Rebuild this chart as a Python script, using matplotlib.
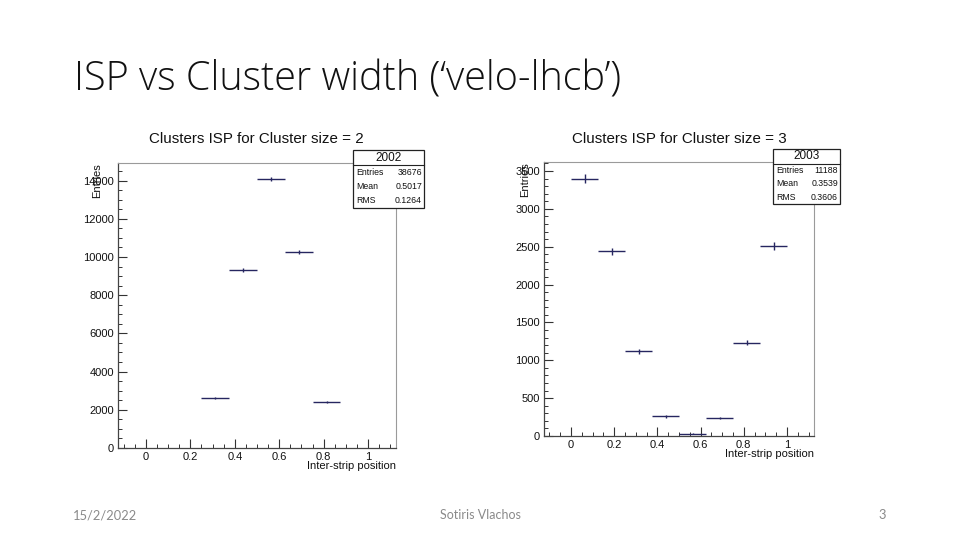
import matplotlib
matplotlib.use("Agg")
import matplotlib.pyplot as plt
from matplotlib.patches import Rectangle
from matplotlib.ticker import MultipleLocator
import numpy as np

W, H = 960, 540

# ---------------- data ----------------
left_centers = [0.3125, 0.4375, 0.5625, 0.6875, 0.8125]
left_values = [2620, 9320, 14080, 10250, 2406]

right_centers = [0.0625, 0.1875, 0.3125, 0.4375, 0.5625, 0.6875, 0.8125, 0.9375]
right_values = [3398, 2438, 1122, 260, 30, 242, 1232, 2509]

left_stats = ["2002", "38676", "0.5017", "0.1264"]
right_stats = ["2003", "11188", "0.3539", "0.3606"]
stat_names = ["Entries", "Mean", "RMS"]

left_title = "Clusters ISP for Cluster size = 2"
right_title = "Clusters ISP for Cluster size = 3"
page_title = "ISP vs Cluster width (\u2018velo-lhcb\u2019)"
footer_date = "15/2/2022"
footer_author = "Sotiris Vlachos"
footer_page = "3"

left_yticks = [0, 2000, 4000, 6000, 8000, 10000, 12000, 14000]
right_yticks = [0, 500, 1000, 1500, 2000, 2500, 3000, 3500]
xticks = [0, 0.2, 0.4, 0.6, 0.8, 1]
xtick_labels = ["0", "0.2", "0.4", "0.6", "0.8", "1"]

ROOT_FONT = "Liberation Sans"
MARK = "#262660"

fig = plt.figure(figsize=(W / 100, H / 100), dpi=100)
fig.patch.set_facecolor("white")


def rect(x0, y0, x1, y1):
    return [x0 / W, 1 - y1 / H, (x1 - x0) / W, (y1 - y0) / H]


def fx(x):
    return x / W


def fy(y):
    return 1 - y / H


def draw_hist(box, centers, values, ytks, ymax, ymin_step, title, stats,
              title_xy, entries_xy, stat_box, xlabel_y):
    ax = fig.add_axes(rect(*box))
    width = 0.125
    for c, v in zip(centers, values):
        err = np.sqrt(v)
        ax.plot([c - width / 2, c + width / 2], [v, v], color=MARK, lw=1.0,
                solid_capstyle="butt")
        ax.plot([c, c], [v - err, v + err], color=MARK, lw=1.0,
                solid_capstyle="butt")
    ax.set_xlim(-0.125, 1.125)
    ax.set_ylim(0, ymax)
    ax.set_xticks(xticks)
    ax.set_xticklabels(xtick_labels)
    ax.xaxis.set_minor_locator(MultipleLocator(0.05))
    ax.set_yticks(ytks)
    ax.set_yticklabels([str(t) for t in ytks])
    ax.yaxis.set_minor_locator(MultipleLocator(ymin_step))
    ax.tick_params(which="major", direction="in", length=6.5, width=0.8,
                   color="#333333", labelsize=8, pad=3,
                   top=False, right=False)
    ax.tick_params(which="minor", direction="in", length=3.2, width=0.7,
                   color="#333333", top=False, right=False)
    for lab in ax.get_xticklabels() + ax.get_yticklabels():
        lab.set_fontfamily(ROOT_FONT)
        lab.set_color("#111111")
    for s in ["left", "bottom"]:
        ax.spines[s].set_color("#444444")
        ax.spines[s].set_linewidth(0.9)
    for s in ["top", "right"]:
        ax.spines[s].set_color("#9a9a9a")
        ax.spines[s].set_linewidth(0.8)

    # plot title
    fig.text(fx(title_xy[0]), fy(title_xy[1]), title, ha="center",
             va="center", fontsize=10.9, family=ROOT_FONT, color="#111111")
    # y label
    fig.text(fx(entries_xy[0]), fy(entries_xy[1]), "Entries", rotation=90,
             ha="center", va="top", fontsize=8, family=ROOT_FONT,
             color="#111111")
    # x label
    fig.text(fx(box[2]), fy(xlabel_y), "Inter-strip position", ha="right",
             va="center", fontsize=8, family=ROOT_FONT, color="#111111")

    # stat box
    x0, y0, x1, y1, yh = stat_box
    fig.patches.append(Rectangle((fx(x0), fy(y1)), fx(x1 - x0),
                                 (y1 - y0) / H, transform=fig.transFigure,
                                 facecolor="white", edgecolor="#222222",
                                 lw=0.9, zorder=5))
    fig.lines.append(plt.Line2D([fx(x0), fx(x1)], [fy(yh), fy(yh)],
                                transform=fig.transFigure, color="#222222",
                                lw=0.8, zorder=6))
    fig.text(fx((x0 + x1) / 2), fy((y0 + yh) / 2), stats[0], ha="center",
             va="center", fontsize=8.5, family=ROOT_FONT, zorder=7,
             color="#111111")
    rowh = (y1 - yh) / 3
    for i, name in enumerate(stat_names):
        yc = yh + rowh * (i + 0.5)
        fig.text(fx(x0 + 3), fy(yc), name, ha="left", va="center",
                 fontsize=6.3, family=ROOT_FONT, zorder=7, color="#111111")
        fig.text(fx(x1 - 2), fy(yc), stats[i + 1], ha="right", va="center",
                 fontsize=6.3, family=ROOT_FONT, zorder=7, color="#111111")
    return ax


draw_hist((118, 163, 396, 448), left_centers, left_values, left_yticks,
          14920, 500, left_title, left_stats, (256, 139), (97, 163),
          (353, 150, 424, 208, 165), 466)
draw_hist((544, 162, 814, 436), right_centers, right_values, right_yticks,
          3619, 100, right_title, right_stats, (679, 139), (525, 162),
          (773, 149, 840, 204, 164), 454)

# page title and footer
fig.text(fx(74), fy(80), page_title, ha="left", va="center", fontsize=28.5,
         family=["Open Sans", "DejaVu Sans"], fontweight="light",
         color="#111111")
fig.text(fx(73), fy(515), footer_date, ha="left", va="center", fontsize=9.3,
         family=["Lato", "DejaVu Sans"], color="#8a8a8a")
fig.text(fx(480), fy(515), footer_author, ha="center", va="center",
         fontsize=9.0, family=["Lato", "DejaVu Sans"], color="#8a8a8a")
fig.text(fx(886), fy(515), footer_page, ha="right", va="center", fontsize=9.3,
         family=["Lato", "DejaVu Sans"], color="#8a8a8a")

fig.savefig("out.png", dpi=100, facecolor="white")
